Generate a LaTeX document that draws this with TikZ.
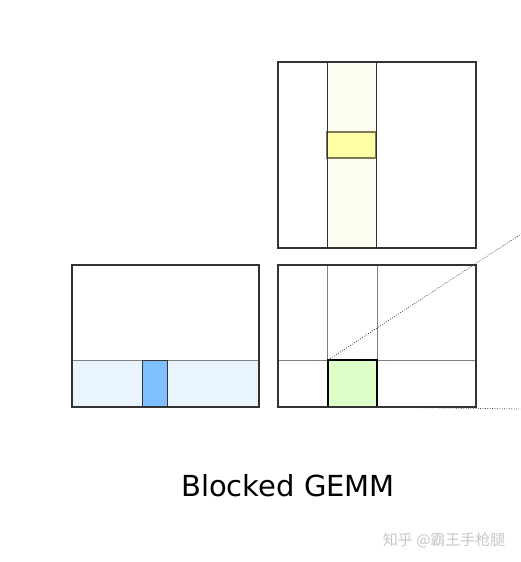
\documentclass[tikz,border=0pt]{standalone}
\usepackage{fontspec}
\setmainfont{DejaVu Sans}
\newfontfamily\cjk{Noto Sans CJK SC}
\def\matB{(278,62) rectangle (476,248)}
\def\matA{(72,265) rectangle (259,407)}
\def\matC{(278,265) rectangle (476,407)}
\colorlet{box edge}{black!80}
\colorlet{grid line}{black!50}
\definecolor{col area}{HTML}{FEFEF0}
\definecolor{col block}{HTML}{FFFFA8}
\definecolor{col edge}{HTML}{7A7A55}
\definecolor{row area}{HTML}{EAF4FF}
\definecolor{row block}{HTML}{80BFFF}
\definecolor{out block}{HTML}{DDFFC8}
\tikzset{matrix box/.style={draw=box edge, line width=1.3pt},
	grid/.style={draw=grid line, line width=0.8pt},
	zoom line/.style={draw=black!75, line width=0.8pt, dash pattern=on 0.8pt off 1.6pt}}

\begin{document}
\begin{tikzpicture}[x=1pt,y=-1pt]
		\useasboundingbox (0,0) rectangle (521,562);
		% B: column panel
		\fill[col area] (327,62) rectangle (376,248);
		\draw[fill=col block, draw=col edge, line width=1.3pt] (327,132) rectangle (376,158);
		\draw[box edge, line width=1pt] (327,62) -- (327,248) (376,62) -- (376,248);
		\draw[matrix box] \matB;
		% A: row panel
		\fill[row area] (72,360) rectangle (259,407);
		\draw[grid] (72,360) -- (259,360);
		\draw[fill=row block, draw=box edge, line width=1pt] (142,360) rectangle (167,407);
		\draw[matrix box] \matA;
		% C: output tile
		\draw[grid] (327,265) -- (327,360) (377,265) -- (377,360) (278,360) -- (476,360);
		\draw[fill=out block, draw=black, line width=1.4pt] (328,360) rectangle (377,407);
		\draw[matrix box] \matC;
		\coordinate (tl) at (328,360);
		\coordinate (br) at (377,407);
		\coordinate (zt) at (521,234);
		\coordinate (zb) at (521,409);
		\draw[zoom line] (tl) -- (zt);
		\draw[zoom line] (br) -- (zb);
		\node (title) at (288,486) {\fontsize{29}{32}\selectfont Blocked GEMM};
		\node[text=black!22, anchor=east] (mark) at (509,540) {\cjk\fontsize{15}{17}\selectfont 知乎 @霸王手枪腿};
		\end{tikzpicture}
\end{document}
